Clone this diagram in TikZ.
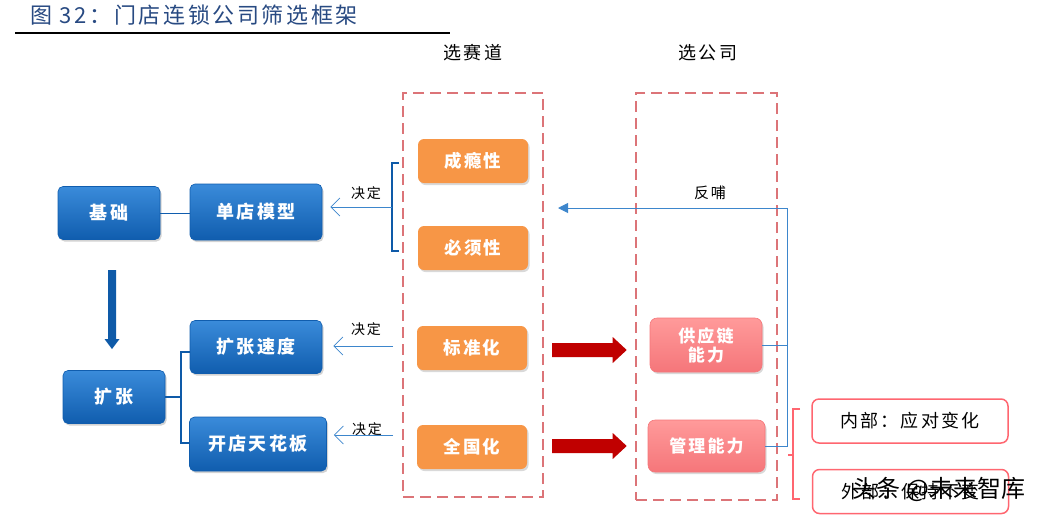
\documentclass[tikz,border=0pt]{standalone}
\usepackage{fontspec}
\setmainfont{Noto Sans CJK SC}
\newfontfamily\cjks[LetterSpace=12]{Noto Sans CJK SC}
\usetikzlibrary{shadows,calc,arrows.meta}
\definecolor{titleblue}{HTML}{284A82}
\definecolor{blueL}{HTML}{3A8BDA}
\definecolor{blueD}{HTML}{105DAE}
\definecolor{blueB}{HTML}{0E5AA8}
\definecolor{orangeF}{HTML}{F79646}
\definecolor{pinkL}{HTML}{FF9A9A}
\definecolor{pinkD}{HTML}{F5767A}
\definecolor{dashred}{HTML}{DC7478}
\definecolor{darkred}{HTML}{C00000}
\definecolor{lineblue}{HTML}{3D86CC}
\definecolor{brred}{HTML}{FF6670}
\begin{document}
\begin{tikzpicture}[x=1pt,y=-1pt,
  bluebox/.style={rounded corners=5pt, top color=blueL, bottom color=blueD, draw=blueD, line width=0.6pt,
    text=white, font=\cjks\bfseries\fontsize{18}{20}\selectfont, inner sep=0pt,
    drop shadow={opacity=0.35, shadow xshift=1.5pt, shadow yshift=-2pt}},
  orangebox/.style={rounded corners=6pt, fill=orangeF, draw=none, minimum width=110pt, minimum height=44pt,
    text=white, font=\cjks\bfseries\fontsize{17.5}{19}\selectfont, inner sep=0pt,
    drop shadow={opacity=0.3, shadow xshift=1.5pt, shadow yshift=-2pt}},
  pinkbox/.style={rounded corners=7pt, top color=pinkL, bottom color=pinkD, draw=pinkD, line width=0.6pt,
    text=white, font=\cjks\bfseries\fontsize{17}{20}\selectfont, inner sep=0pt, align=center,
    drop shadow={opacity=0.3, shadow xshift=1.5pt, shadow yshift=-2pt}},
  dashbox/.style={draw=dashred, line width=1.8pt, dash pattern=on 11pt off 6pt, inner sep=0pt},
  outbox/.style={draw=brred, line width=1.5pt, rounded corners=7pt, fill=white, minimum width=196pt,
    minimum height=44pt, font=\cjks\fontsize{18}{20}\selectfont, inner sep=0pt},
  decide/.style={draw=lineblue, line width=1pt, -{Straight Barb[length=9pt,width=18pt,line width=0.8pt]}},
  fbline/.style={draw=lineblue, line width=1pt},
  lbl/.style={font=\cjks\fontsize{14}{16}\selectfont, inner sep=0pt},
  head/.style={font=\cjks\fontsize{18}{20}\selectfont, inner sep=0pt}
]
\useasboundingbox (0,0) rectangle (1051,515);

% title
\node[anchor=west, text=titleblue, font=\cjks\fontsize{22}{24}\selectfont, inner sep=0pt] (title) at (30,15) {图 32：门店连锁公司筛选框架};
\draw[line width=2.5pt] (15,33) -- (450,33);

% headings
\node[head] (h1) at (473,53) {选赛道};
\node[head] (h2) at (708,53) {选公司};

% dashed boxes
\node[dashbox, minimum width=140pt, minimum height=404pt] (boxA) at (473,295) {};
\node[dashbox, minimum width=141pt, minimum height=407pt] (boxB) at (706.5,296.5) {};

% blue nodes
\node[bluebox, minimum width=102pt, minimum height=53pt] (jc) at (109,213) {基础};
\node[bluebox, minimum width=132pt, minimum height=56pt] (dm) at (256,212) {单店模型};
\node[bluebox, minimum width=102pt, minimum height=53pt] (kz) at (114,397) {扩张};
\node[bluebox, minimum width=132pt, minimum height=53pt] (sd) at (256,347) {扩张速度};
\node[bluebox, minimum width=137pt, minimum height=54pt] (tb) at (258,444) {开店天花板};

\draw[blueD, line width=1pt] (jc.east) -- (dm.west |- jc.east);

% down block arrow
\coordinate (dA) at (112,270);
\coordinate (dB) at (112,349);
\fill[blueB] ($(dA)+(-4,0)$) -- ($(dA)+(4,0)$) -- ($(dB)+(4,-10)$) -- ($(dB)+(7.5,-10)$) -- (dB)
  -- ($(dB)+(-7.5,-10)$) -- ($(dB)+(-4,-10)$) -- cycle;

% bracket for expansion
\draw[blueB, line width=1.6pt] (190,352) -- (181,352) -- (181,443) -- (190,443);
\draw[blueB, line width=1.6pt] (181,397) -- (kz.east);

% orange nodes
\node[orangebox] (cy) at (473,161) {成瘾性};
\node[orangebox] (bx) at (473,248) {必须性};
\node[orangebox] (bz) at (472,348) {标准化};
\node[orangebox] (qg) at (472,447) {全国化};

% bracket for orange
\draw[blueB, line width=1.6pt] (399,163) -- (392,163) -- (392,251) -- (399,251);
\coordinate (br1) at (392,207);
\coordinate (s2) at (393,346);
\coordinate (s3) at (393,435);

\draw[decide] (br1) -- ($(dm.east)+(8,-5)$);
\draw[decide] (s2) -- ($(sd.east)+(11,-1)$);
\draw[decide] (s3) -- ($(tb.east)+(7,-9)$);
\node[lbl] (d1) at (366,193) {决定};
\node[lbl] (d2) at (366,329) {决定};
\node[lbl] (d3) at (367,429) {决定};

% pink nodes
\node[pinkbox, minimum width=112pt, minimum height=54pt] (sup) at (706,345) {供应链\\[-1pt]能力};
\node[pinkbox, minimum width=117pt, minimum height=52pt] (mg) at (706.5,446) {管理能力};

% red block arrows
\coordinate (r1a) at ($(bz.east)+(25,2)$);
\coordinate (r1b) at ($(sup.west)+(-23,5)$);
\coordinate (r2a) at ($(qg.east)+(25,-1)$);
\coordinate (r2b) at ($(mg.west)+(-21,0)$);
\foreach \a/\b in {r1a/r1b, r2a/r2b}{
  \fill[darkred] ($(\a)+(0,-7)$) -- ($(\b)+(-14,-7)$) -- ($(\b)+(-14,-13)$) -- (\b)
    -- ($(\b)+(-14,13)$) -- ($(\b)+(-14,7)$) -- ($(\a)+(0,7)$) -- cycle;
}

% feedback
\coordinate (fbT) at (787,208);
\coordinate (fbE) at (558,208);
\draw[fbline] (mg.east) -| (fbT);
\draw[fbline] (sup.east) -- (sup.east -| fbT);
\draw[fbline, -{Triangle[length=10pt,width=10pt]}] (fbT) -- (fbE);
\node[lbl, font=\cjks\fontsize{15}{17}\selectfont] (fb) at (710,193) {反哺};

% red bracket and outcome boxes
\draw[brred, line width=1.8pt] (800,409) -- (793,409) -- (793,499) -- (800,499);
\draw[brred, line width=1.8pt] (793,455) -- (788,455);
\node[outbox] (nb) at (910,421) {内部：应对变化};
\node[outbox] (wb) at (910.5,491.5) {外部：保持不变};

% watermark
\node[font=\fontsize{24}{26}\selectfont, inner sep=0pt] (wm) at (939,489) {头条 @未来智库};
\end{tikzpicture}
\end{document}
